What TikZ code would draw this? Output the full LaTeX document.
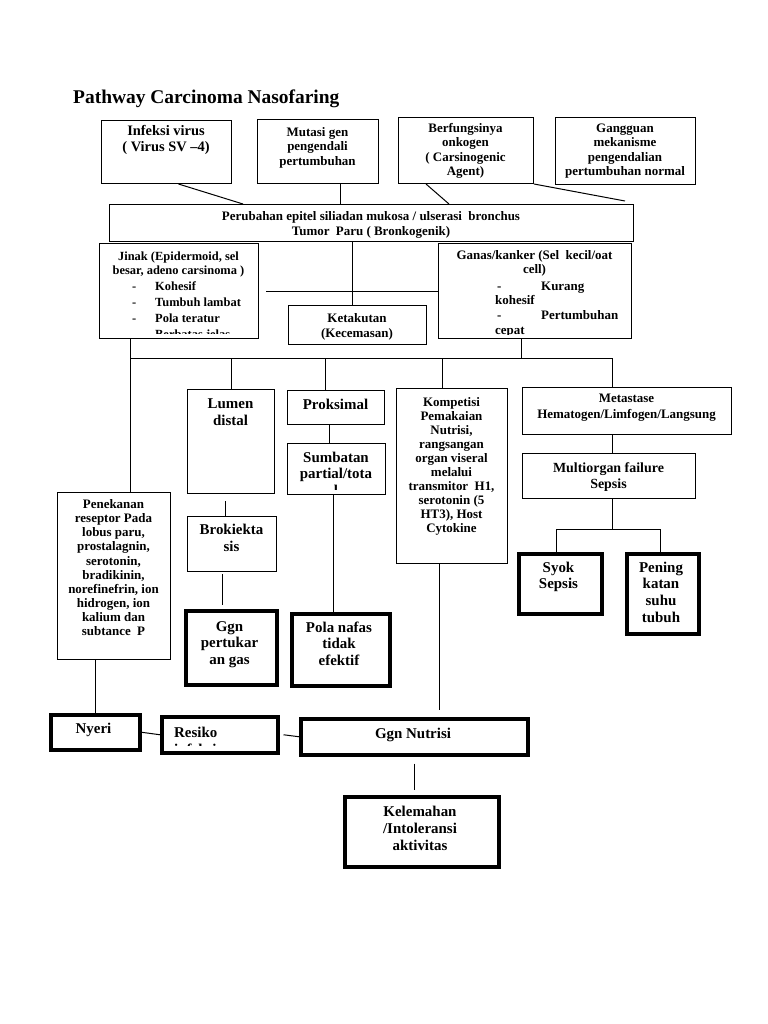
\documentclass[tikz,border=0pt]{standalone}
\usepackage{fontspec}
\setmainfont{Liberation Serif}

\tikzset{
  box/.style={draw, line width=1bp, anchor=north west, inner sep=0pt},
  thickbox/.style={box, line width=3.5bp},
  txt/.style={anchor=base, align=center, inner sep=0pt, font=\bfseries\fontsize{13}{14.5}\selectfont},
  midtxt/.style={txt, font=\bfseries\fontsize{14}{16.5}\selectfont},
  bigtxt/.style={txt, font=\bfseries\fontsize{15}{17}\selectfont},
  link/.style={line width=1bp},
}

\begin{document}
\begin{tikzpicture}[x=1bp,y=-1bp]
\useasboundingbox (0,0) rectangle (768,1024);
\fill[white] (0,0) rectangle (768,1024);

% Title
\node[anchor=base west, inner sep=0pt, font=\bfseries\fontsize{19.5}{22}\selectfont] (title) at (73,103) {Pathway Carcinoma Nasofaring};

% First row of causes (text nodes sit on the baseline of their last line)
\node[box, minimum width=130bp, minimum height=63bp] (infeksi) at (101,120) {};
\node[box, minimum width=121bp, minimum height=64bp] (mutasi) at (257,119) {};
\node[box, minimum width=135bp, minimum height=66bp] (berfungsi) at (398,117) {};
\node[box, minimum width=140bp, minimum height=67bp] (gangguan) at (555,117) {};
\node[txt, font=\bfseries\fontsize{14.5}{16}\selectfont] (infeksi-t) at (166,151.5) {Infeksi virus\\( Virus SV –4)};
\node[txt] (mutasi-t) at (317.5,165) {Mutasi gen\\pengendali\\pertumbuhan};
\node[txt] (berfungsi-t) at (465.5,175.5) {Berfungsinya\\onkogen\\( Carsinogenic\\Agent)};
\node[txt] (gangguan-t) at (625,175.5) {Gangguan\\mekanisme\\pengendalian\\pertumbuhan normal};

% Perubahan epitel
\node[box, minimum width=524bp, minimum height=37bp] (perubahan) at (109,204) {};
\node[txt, font=\bfseries\fontsize{13}{15}\selectfont] (perubahan-t) at (371,235) {Perubahan epitel siliadan mukosa / ulserasi\ \ bronchus\\Tumor\ \ Paru ( Bronkogenik)};

% Jinak / Ganas / Ketakutan
\node[box, minimum width=159bp, minimum height=95bp] (jinak) at (99,243) {};
\node[box, minimum width=193bp, minimum height=95bp] (ganas) at (438,243) {};
\node[box, minimum width=138bp, minimum height=39bp] (ketakutan) at (288,305) {};
\begin{scope}
\clip (jinak.north west) rectangle ([yshift=6bp]jinak.south east);
\node[txt, font=\bfseries\fontsize{12.5}{14.5}\selectfont] (jinak-t) at (178.5,274.5) {Jinak (Epidermoid, sel\\besar, adeno carsinoma )};
\node[txt, align=left, anchor=base west, font=\bfseries\fontsize{12.5}{16}\selectfont] (jinak-l) at (132,338)
  {\makebox[23bp][l]{-}Kohesif\\\makebox[23bp][l]{-}Tumbuh lambat\\\makebox[23bp][l]{-}Pola teratur\\\makebox[23bp][l]{-}Berbatas jelas};
\end{scope}
\begin{scope}
\clip (ganas.north west) rectangle ([yshift=5bp]ganas.south east);
\node[txt, font=\bfseries\fontsize{13}{14.5}\selectfont] (ganas-t) at (534.5,273.5) {Ganas/kanker (Sel\ \ kecil/oat\\cell)};
\node[txt, align=left, anchor=base west, font=\bfseries\fontsize{13}{14.7}\selectfont] (ganas-l) at (495,334.1)
  {\makebox[46bp][l]{\hspace{2bp}-}Kurang\\kohesif\\\makebox[46bp][l]{\hspace{2bp}-}Pertumbuhan\\cepat};
\end{scope}
\node[txt, font=\bfseries\fontsize{13}{15}\selectfont] (ketakutan-t) at (357,337) {Ketakutan\\(Kecemasan)};

% Second level
\node[box, minimum width=87bp, minimum height=104bp] (lumen) at (187,389) {};
\node[box, minimum width=97bp, minimum height=34bp] (proksimal) at (287,390) {};
\node[box, minimum width=98bp, minimum height=51bp] (sumbatan) at (287,443) {};
\node[box, minimum width=111bp, minimum height=175bp] (kompetisi) at (396,388) {};
\node[box, minimum width=209bp, minimum height=47bp] (metastase) at (522,387) {};
\node[box, minimum width=173bp, minimum height=45bp] (multiorgan) at (522,453) {};
\node[box, minimum width=113bp, minimum height=167bp] (penekanan) at (57,492) {};
\node[box, minimum width=89bp, minimum height=55bp] (brokiektasis) at (187,516) {};
\node[bigtxt] (lumen-t) at (230.5,425) {Lumen\\distal};
\node[bigtxt] (proksimal-t) at (335.5,409) {Proksimal};
\begin{scope}
\clip (sumbatan.north west) rectangle ([yshift=6bp]sumbatan.south east);
\node[bigtxt, font=\bfseries\fontsize{15}{16.5}\selectfont] (sumbatan-t) at (336,495) {Sumbatan\\partial/tota\\l};
\end{scope}
\node[txt, font=\bfseries\fontsize{13}{14}\selectfont] (kompetisi-t) at (451.5,532) {Kompetisi\\Pemakaian\\Nutrisi,\\rangsangan\\organ viseral\\melalui\\transmitor\ \ H1,\\serotonin (5\\HT3), Host\\Cytokine};
\node[txt, font=\bfseries\fontsize{13}{16}\selectfont] (metastase-t) at (626.5,418) {Metastase\\Hematogen/Limfogen/Langsung};
\node[midtxt] (multiorgan-t) at (608.5,488.5) {Multiorgan failure\\Sepsis};
\node[txt, font=\bfseries\fontsize{13}{14.2}\selectfont] (penekanan-t) at (113.5,635.8) {Penekanan\\reseptor Pada\\lobus paru,\\prostalagnin,\\serotonin,\\bradikinin,\\norefinefrin, ion\\hidrogen, ion\\kalium dan\\subtance\ \ P};
\node[bigtxt] (brokiektasis-t) at (231.5,551) {Brokiekta\\sis};

% Diagnoses (thick boxes)
\node[bigtxt, font=\bfseries\fontsize{15}{16.5}\selectfont] (syok-t) at (558.5,588.5) {Syok\\Sepsis};
\node[bigtxt, font=\bfseries\fontsize{15}{16.7}\selectfont] (pening-t) at (661,622.1) {Pening\\katan\\suhu\\tubuh};
\node[bigtxt, font=\bfseries\fontsize{15}{16.7}\selectfont] (ggnpertukaran-t) at (229.5,664.4) {Ggn\\pertukar\\an gas};
\node[bigtxt, font=\bfseries\fontsize{15}{16.7}\selectfont] (polanafas-t) at (339,665.4) {Pola nafas\\tidak\\efektif};
\node[bigtxt] (nyeri-t) at (93.5,733) {Nyeri};
\begin{scope}
\clip (160,715) rectangle (276,745.5);
\node[bigtxt, align=left, anchor=base west] (resiko-t) at (174,754.5) {Resiko\\infeksi};
\end{scope}
\node[bigtxt] (ggnnutrisi-t) at (413,738) {Ggn Nutrisi};
\node[bigtxt, font=\bfseries\fontsize{15}{17.3}\selectfont] (kelemahan-t) at (420,850.6) {Kelemahan\\/Intoleransi\\aktivitas};
\node[thickbox, minimum width=83bp, minimum height=60bp] (syok) at (517,552) {};
\node[thickbox, minimum width=72bp, minimum height=80bp] (pening) at (625,552) {};
\node[thickbox, minimum width=91bp, minimum height=74bp] (ggnpertukaran) at (184,609) {};
\node[thickbox, minimum width=98bp, minimum height=72bp] (polanafas) at (290,612) {};
\node[thickbox, minimum width=89bp, minimum height=35bp] (nyeri) at (49,713) {};
\node[thickbox, minimum width=116bp, minimum height=36bp] (resiko) at (160,715) {};
\node[thickbox, minimum width=227bp, minimum height=36bp] (ggnnutrisi) at (299,717) {};
\node[thickbox, minimum width=154bp, minimum height=70bp] (kelemahan) at (343,795) {};

% Connectors from first row
\draw[link] ([xshift=12bp]infeksi.south) -- ([xshift=134bp]perubahan.north west);
\draw[link] ([xshift=22bp]mutasi.south) -- ([xshift=22bp]mutasi.south |- perubahan.north);
\draw[link] ([xshift=-40bp]berfungsi.south) -- ([xshift=340bp]perubahan.north west);
\draw[link] (berfungsi.south east) -- ([xshift=-9bp,yshift=3bp]perubahan.north east);

% Perubahan to its branches
\draw[link] ([xshift=-5bp]ketakutan.north) -- ([xshift=-5bp]ketakutan.north |- perubahan.south);
\draw[link] ([xshift=7bp]jinak.east) -- (ganas.west);

% Common line below Jinak and Ganas
\coordinate (busl) at (130,358);
\coordinate (busr) at (612,358);
\draw[link] (busl) -- (busr);
\draw[link] (jinak.south -| busl) -- (penekanan.north -| busl);
\draw[link] ([xshift=-13.5bp]ganas.south) -- ([xshift=-13.5bp]ganas.south |- busl);
\draw[link] (lumen.north) -- (lumen.north |- busl);
\draw[link] ([xshift=-11bp]proksimal.north) -- ([xshift=-11bp]proksimal.north |- busl);
\draw[link] ([xshift=-9.5bp]kompetisi.north) -- ([xshift=-9.5bp]kompetisi.north |- busl);
\draw[link] (metastase.north -| busr) -- (busr);

% Lower connectors
\draw[link] ([xshift=-6.5bp]proksimal.south) -- ([xshift=-6.5bp]proksimal.south |- sumbatan.north);
\draw[link, shorten <=7bp] ([xshift=-6bp]lumen.south) -- ([xshift=-6bp]lumen.south |- brokiektasis.north);
\draw[link, shorten <=2bp, shorten >=4bp] ([xshift=-9.5bp]brokiektasis.south) -- ([xshift=-9.5bp]brokiektasis.south |- ggnpertukaran.north);
\draw[link] ([xshift=-3bp]sumbatan.south) -- ([xshift=-3bp]sumbatan.south |- polanafas.north);
\draw[link, shorten >=7bp] ([xshift=-12.5bp]kompetisi.south) -- ([xshift=-12.5bp]kompetisi.south |- ggnnutrisi.north);
\draw[link, shorten <=7bp, shorten >=5bp] (ggnnutrisi.south) -- (ggnnutrisi.south |- kelemahan.north);
\draw[link] ([xshift=4bp]resiko.east) -- (ggnnutrisi.west);
\draw[link] (nyeri.east) -- (resiko.west);
\draw[link] ([xshift=-18.5bp]penekanan.south) -- ([xshift=-18.5bp]penekanan.south |- nyeri.north);

% Metastase branch
\draw[link] (metastase.south -| busr) -- (multiorgan.north -| busr);
\coordinate (split) at (612,529);
\draw[link] (multiorgan.south -| split) -- (split);
\draw[link] ([xshift=-3.5bp]syok.north) -- ([xshift=-3.5bp]syok.north |- split) -- ([xshift=-2bp]pening.north |- split) -- ([xshift=-2bp]pening.north);
\end{tikzpicture}
\end{document}
